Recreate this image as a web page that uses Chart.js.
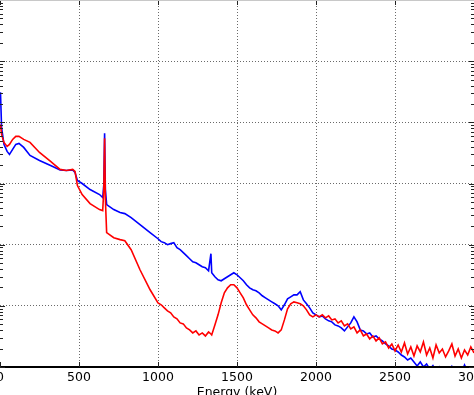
<!DOCTYPE html>
<html>
<head>
<meta charset="utf-8">
<script src="https://cdn.jsdelivr.net/npm/chart.js@4.4.1/dist/chart.umd.min.js"></script>
<style>
  html, body { margin: 0; padding: 0; width: 474px; height: 395px; overflow: hidden; background: #fff; }
  /* the reference is a crop of a larger figure, so the canvas hangs over the edges */
  #wrap { position: absolute; left: -40px; top: -20px; width: 554px; height: 455px; }
</style>
</head>
<body>
<div id="wrap"><canvas id="spectrumChart"></canvas></div>
<script>
// energy grid (keV)
const energies = [
  3, 10, 25, 45, 60, 80, 100, 120, 150, 190, 250, 320, 380, 420, 460, 475, 490, 520, 570, 630,
  650, 657, 662, 667, 675, 720, 760, 790, 830, 886, 950,
  1000, 1020, 1040, 1060, 1080, 1100, 1120, 1140, 1160, 1180, 1200, 1220, 1240, 1260, 1280, 1300, 1320, 1335,
  1340, 1360, 1380, 1400, 1420, 1440, 1460, 1480, 1500, 1520, 1540, 1560, 1580, 1600, 1620, 1640, 1660, 1680,
  1700, 1720, 1740, 1760, 1780, 1800, 1820, 1840, 1860, 1880, 1900, 1920, 1940, 1960, 1980, 2000, 2020, 2040,
  2060, 2080, 2100, 2120, 2140, 2160, 2180, 2200, 2220, 2240, 2260, 2280, 2300, 2320, 2340, 2360, 2380, 2400,
  2420, 2440, 2460, 2480, 2500, 2520, 2540, 2560, 2580, 2600, 2620, 2640, 2660, 2680, 2700, 2720, 2740, 2760,
  2780, 2800, 2820, 2840, 2860, 2880, 2900, 2920, 2940, 2960, 2980, 3000
];

// blue spectrum (counts)
const blueCounts = [
  31000, 8280, 4360, 3350, 2990, 3610, 4360, 4530, 3890, 2880, 2380, 1970, 1670, 1630, 1670, 1510, 1120, 1000, 797, 660,
  589, 963, 6600, 797, 452, 375, 335, 322, 277, 213, 157,
  125, 112, 108, 100, 104, 108, 89.3, 82.8, 73.9, 66.0, 58.9, 52.6, 50.7, 47.0, 43.6, 42.0, 37.5, 71.2,
  34.7, 29.9, 26.7, 25.7, 27.7, 29.9, 32.2, 34.7, 32.2, 28.8, 25.7, 22.1, 19.7, 18.3, 17.6, 16.3, 14.6, 13.5,
  12.5, 11.6, 10.8, 10.0, 8.60, 10.4, 13.0, 14.0, 15.1, 15.1, 17.0, 12.5, 10.8, 9.27, 7.68, 7.12, 6.60, 6.85,
  6.12, 5.68, 5.47, 4.88, 4.70, 4.36, 3.89, 4.53, 5.26, 6.60, 5.47, 4.04, 3.89, 3.47, 3.61, 3.10, 3.22, 2.88,
  2.67, 2.38, 2.21, 1.97, 1.90, 1.76, 1.57, 1.46, 1.30, 1.40, 1.21, 1.04, 1.21, 1.00, 1.12, 0.92, 1.05, 0.85,
  1.0, 0.8, 0.95, 0.8, 1.02, 0.85, 0.9, 0.8, 1.08, 0.85, 0.95, 0.9
];

// red spectrum (counts)
const redCounts = [
  9270, 6360, 4700, 4040, 4360, 5260, 5890, 5890, 5260, 4700, 3220, 2290, 1700, 1630, 1700, 1570, 927, 660, 470, 375,
  361, 797, 5470, 547, 157, 130, 121, 116, 82.8, 38.9, 18.3,
  11.2, 10.4, 9.27, 8.28, 7.68, 6.60, 6.12, 5.26, 5.07, 4.36, 4.04, 3.61, 3.89, 3.35, 3.61, 3.22, 3.75, 3.47,
  3.35, 4.88, 7.12, 11.2, 16.3, 19.7, 22.1, 22.1, 19.7, 16.3, 13.5, 10.4, 8.60, 7.12, 6.36, 5.47, 5.07, 4.70,
  4.36, 4.04, 3.89, 3.61, 4.04, 5.89, 8.93, 10.8, 11.6, 11.2, 10.8, 10.0, 8.60, 7.12, 6.60, 7.12, 6.60, 7.12,
  6.36, 6.85, 5.89, 6.12, 5.26, 5.68, 4.70, 5.07, 4.20, 4.53, 3.61, 4.04, 3.22, 3.47, 2.88, 3.22, 2.67, 2.99,
  2.38, 2.57, 2.05, 2.38, 1.83, 2.29, 1.76, 2.47, 1.63, 2.13, 1.51, 2.21, 1.76, 2.57, 1.57, 2.05, 1.40, 2.29,
  1.70, 1.97, 1.46, 1.83, 2.38, 1.51, 1.97, 1.40, 1.90, 1.57, 2.13, 1.70
];

const xTickValues = [0, 500, 1000, 1500, 2000, 2500, 3000];
const yDecades = [1, 10, 100, 1000, 10000, 100000, 1000000];

const FONT = { family: "'DejaVu Sans', sans-serif", size: 12.5 };
const GRID_COLOR = '#6a6a6a';

function toPoints(counts) {
    return energies.map((e, i) => ({ x: e, y: counts[i] }));
}

// inward ticks on all four sides, like matplotlib
const frameTicks = {
    id: 'frameTicks',
    afterDraw(chart) {
        const { ctx, chartArea: a, scales: { x, y } } = chart;
        ctx.save();
        ctx.strokeStyle = '#222';
        ctx.lineWidth = 1;
        ctx.beginPath();
        y.ticks.forEach(t => {
            const py = Math.round(y.getPixelForValue(t.value)) + 0.5;
            const len = t.major ? 5 : 3;
            ctx.moveTo(a.left, py);
            ctx.lineTo(a.left + len, py);
            ctx.moveTo(a.right, py);
            ctx.lineTo(a.right - len, py);
        });
        x.ticks.forEach(t => {
            const px = Math.round(x.getPixelForValue(t.value)) + 0.5;
            ctx.moveTo(px, a.top);
            ctx.lineTo(px, a.top + 5);
            ctx.moveTo(px, a.bottom);
            ctx.lineTo(px, a.bottom - 5);
        });
        ctx.stroke();

        // top spine, mostly cropped away in the reference
        ctx.strokeStyle = '#c8c8c8';
        ctx.beginPath();
        ctx.moveTo(a.left, a.top + 0.5);
        ctx.lineTo(a.right, a.top + 0.5);
        ctx.stroke();
        ctx.restore();
    }
};

new Chart(document.getElementById('spectrumChart'), {
    type: 'line',
    data: {
        datasets: [
            {
                label: 'blue',
                data: toPoints(blueCounts),
                borderColor: '#0000ff',
                borderWidth: 1.6,
                pointRadius: 0,
                tension: 0,
                clip: 0,
                order: 1
            },
            {
                label: 'red',
                data: toPoints(redCounts),
                borderColor: '#ff0000',
                borderWidth: 1.6,
                pointRadius: 0,
                tension: 0,
                clip: 0,
                order: 0
            }
        ]
    },
    options: {
        responsive: true,
        maintainAspectRatio: false,
        animation: false,
        events: [],
        layout: { padding: { left: 40, right: 40, top: 20, bottom: 35 } },
        plugins: {
            legend: { display: false },
            tooltip: { enabled: false }
        },
        scales: {
            x: {
                type: 'linear',
                min: 0,
                max: 3000,
                afterBuildTicks: scale => {
                    scale.ticks = xTickValues.map(v => ({ value: v }));
                },
                afterFit: scale => { scale.height = 33; },
                ticks: {
                    autoSkip: false,
                    maxRotation: 0,
                    padding: 3,
                    color: '#000',
                    font: FONT,
                    callback: value => `${value}`
                },
                grid: {
                    drawTicks: false,
                    lineWidth: 1,
                    color: ctx => (ctx.tick && ctx.tick.value > 0 && ctx.tick.value < 3000) ? GRID_COLOR : 'rgba(0,0,0,0)'
                },
                border: { display: true, color: '#000', width: 2, dash: [1, 2], z: 1 },
                title: {
                    display: true,
                    text: 'Energy (keV)',
                    color: '#000',
                    font: FONT,
                    padding: { top: 0, bottom: 0 }
                }
            },
            y: {
                type: 'logarithmic',
                min: 1,
                max: 1000000,
                afterBuildTicks: scale => {
                    const ticks = [];
                    yDecades.forEach((d, i) => {
                        ticks.push({ value: d, major: true });
                        if (i < yDecades.length - 1) {
                            for (let m = 2; m <= 9; m++) ticks.push({ value: d * m, major: false });
                        }
                    });
                    scale.ticks = ticks;
                },
                afterFit: scale => { scale.width = 0; },
                ticks: { display: false },
                grid: {
                    drawTicks: false,
                    lineWidth: 1,
                    color: ctx => (ctx.tick && ctx.tick.major && ctx.tick.value > 1 && ctx.tick.value < 1000000) ? GRID_COLOR : 'rgba(0,0,0,0)'
                },
                border: { display: false, dash: [1, 2] }
            }
        }
    },
    plugins: [frameTicks]
});
</script>
</body>
</html>
